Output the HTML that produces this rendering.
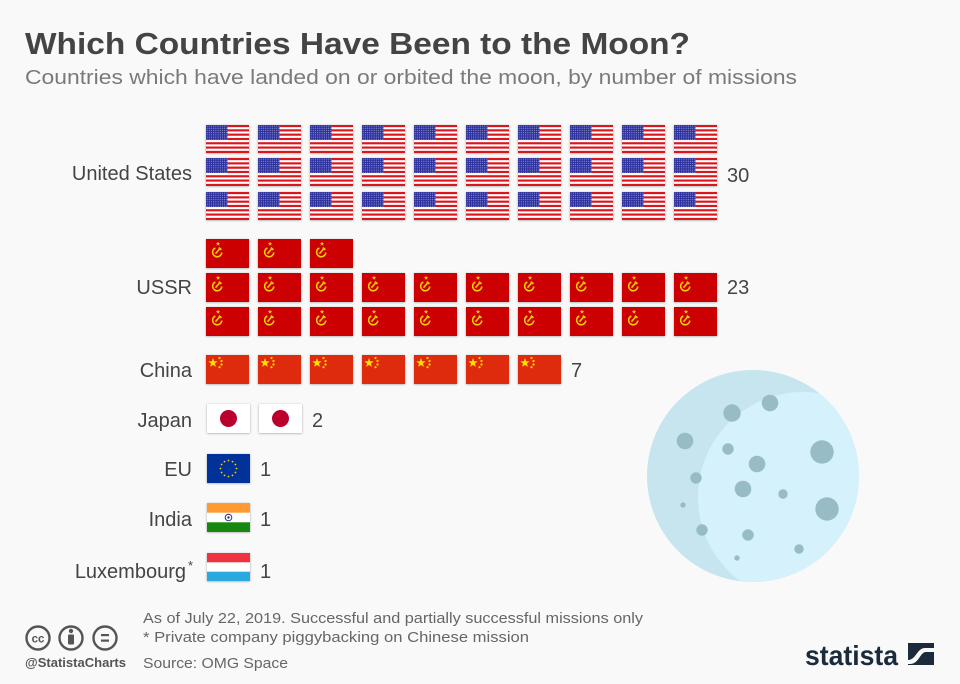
<!DOCTYPE html>
<html><head><meta charset="utf-8"><style>
html,body{margin:0;padding:0;background:#f9f9f9;}
svg{display:block;}
text{font-family:"Liberation Sans",sans-serif;}
</style></head><body>
<svg width="960" height="684" viewBox="0 0 960 684" xmlns="http://www.w3.org/2000/svg">
<defs>
<filter id="sh" x="-20%" y="-20%" width="140%" height="140%">
<feDropShadow dx="0" dy="0.5" stdDeviation="1" flood-color="#000" flood-opacity="0.35"/>
</filter>
<pattern id="stars" width="2.2" height="2.2" patternUnits="userSpaceOnUse">
<rect width="2.2" height="2.2" fill="#2a2e9c"/>
<circle cx="1.1" cy="1.1" r="0.5" fill="#b8bce8"/>
</pattern>
<symbol id="us" viewBox="0 0 43 28">
<rect width="43" height="28" fill="#fff"/>
<g fill="#d8141e">
<rect y="0" width="43" height="2.15"/><rect y="4.3" width="43" height="2.15"/><rect y="8.6" width="43" height="2.15"/><rect y="12.9" width="43" height="2.15"/><rect y="17.2" width="43" height="2.15"/><rect y="21.5" width="43" height="2.15"/><rect y="25.85" width="43" height="2.15"/>
</g>
<rect width="21.5" height="15" fill="url(#stars)"/>
</symbol>
<symbol id="su" viewBox="0 0 43 29">
<rect width="43" height="29" fill="#cc0000"/>
<g fill="#ffd200" stroke="#ffd200">
<polygon points="12,2.5 12.6,4.1 14.2,4.1 12.9,5.1 13.4,6.7 12,5.7 10.6,6.7 11.1,5.1 9.8,4.1 11.4,4.1" stroke="none"/>
<path d="M9.3,9 A4.6,4.6 0 1 0 15.8,13.6" fill="none" stroke-width="1.6"/>
<line x1="9.5" y1="14.6" x2="14.2" y2="9.2" stroke-width="1.5"/>
<line x1="12.8" y1="8.6" x2="15.4" y2="10.8" stroke-width="1.7"/>
</g>
</symbol>
<symbol id="cn" viewBox="0 0 43 29">
<rect width="43" height="29" fill="#de2910"/>
<g fill="#ffde00">
<polygon points="7,3 8.2,6.3 11.7,6.4 8.9,8.5 9.9,11.9 7,9.9 4.1,11.9 5.1,8.5 2.3,6.4 5.8,6.3"/>
<circle cx="13.5" cy="3" r="1.1"/><circle cx="15.5" cy="6" r="1.1"/><circle cx="15.5" cy="9.5" r="1.1"/><circle cx="13.5" cy="12.2" r="1.1"/>
</g>
</symbol>
<symbol id="jp" viewBox="0 0 43 29">
<rect width="43" height="29" fill="#fff"/>
<circle cx="21.5" cy="14.5" r="8.5" fill="#bc002d"/>
</symbol>
<symbol id="eu" viewBox="0 0 43 29">
<rect width="43" height="29" fill="#003399"/>
<g fill="#ffcc00">
<circle cx="21.5" cy="6.5" r="0.9"/><circle cx="25.5" cy="7.6" r="0.9"/><circle cx="28.4" cy="10.5" r="0.9"/><circle cx="29.5" cy="14.5" r="0.9"/><circle cx="28.4" cy="18.5" r="0.9"/><circle cx="25.5" cy="21.4" r="0.9"/><circle cx="21.5" cy="22.5" r="0.9"/><circle cx="17.5" cy="21.4" r="0.9"/><circle cx="14.6" cy="18.5" r="0.9"/><circle cx="13.5" cy="14.5" r="0.9"/><circle cx="14.6" cy="10.5" r="0.9"/><circle cx="17.5" cy="7.6" r="0.9"/>
</g>
</symbol>
<symbol id="in" viewBox="0 0 43 29">
<rect width="43" height="29" fill="#fff"/>
<rect width="43" height="9.7" fill="#ff9933"/>
<rect y="19.3" width="43" height="9.7" fill="#138808"/>
<circle cx="21.5" cy="14.5" r="3.3" fill="none" stroke="#2b2f8f" stroke-width="1"/>
<circle cx="21.5" cy="14.5" r="1.2" fill="#2b2f8f"/>
</symbol>
<symbol id="lu" viewBox="0 0 43 28">
<rect width="43" height="28" fill="#fff"/>
<rect width="43" height="9.3" fill="#ef3340"/>
<rect y="18.7" width="43" height="9.3" fill="#2aa9e0"/>
</symbol>
<g id="usrow">
<use href="#us" x="206" y="0" width="43" height="28"/>
<use href="#us" x="258" y="0" width="43" height="28"/>
<use href="#us" x="310" y="0" width="43" height="28"/>
<use href="#us" x="362" y="0" width="43" height="28"/>
<use href="#us" x="414" y="0" width="43" height="28"/>
<use href="#us" x="466" y="0" width="43" height="28"/>
<use href="#us" x="518" y="0" width="43" height="28"/>
<use href="#us" x="570" y="0" width="43" height="28"/>
<use href="#us" x="622" y="0" width="43" height="28"/>
<use href="#us" x="674" y="0" width="43" height="28"/>
</g>
<g id="surow">
<use href="#su" x="206" y="0" width="43" height="29"/>
<use href="#su" x="258" y="0" width="43" height="29"/>
<use href="#su" x="310" y="0" width="43" height="29"/>
<use href="#su" x="362" y="0" width="43" height="29"/>
<use href="#su" x="414" y="0" width="43" height="29"/>
<use href="#su" x="466" y="0" width="43" height="29"/>
<use href="#su" x="518" y="0" width="43" height="29"/>
<use href="#su" x="570" y="0" width="43" height="29"/>
<use href="#su" x="622" y="0" width="43" height="29"/>
<use href="#su" x="674" y="0" width="43" height="29"/>
</g>
<clipPath id="moonclip"><circle cx="753" cy="476" r="106"/></clipPath>
</defs>

<rect width="960" height="684" fill="#f9f9f9"/>

<!-- Title -->
<text x="25" y="54" font-size="31" font-weight="bold" fill="#444" textLength="665" lengthAdjust="spacingAndGlyphs">Which Countries Have Been to the Moon?</text>
<text x="25" y="84" font-size="20.5" fill="#7a7a7a" textLength="772" lengthAdjust="spacingAndGlyphs">Countries which have landed on or orbited the moon, by number of missions</text>

<!-- Labels -->
<g font-size="20" fill="#444" text-anchor="end">
<text x="192" y="180">United States</text>
<text x="192" y="294">USSR</text>
<text x="192" y="377">China</text>
<text x="192" y="427">Japan</text>
<text x="192" y="476">EU</text>
<text x="192" y="526">India</text>
<text x="186" y="578">Luxembourg</text>
<text x="193" y="570" font-size="13">*</text>
</g>
<!-- Numbers -->
<g font-size="20" fill="#444">
<text x="727" y="182">30</text>
<text x="727" y="294">23</text>
<text x="571" y="377">7</text>
<text x="312" y="427">2</text>
<text x="260" y="476">1</text>
<text x="260" y="526">1</text>
<text x="260" y="578">1</text>
</g>

<!-- Flags -->
<g filter="url(#sh)">
<use href="#usrow" x="0" y="125"/>
<use href="#usrow" x="0" y="158"/>
<use href="#usrow" x="0" y="192"/>
</g>
<g filter="url(#sh)">
<use href="#su" x="206" y="239" width="43" height="29"/>
<use href="#su" x="258" y="239" width="43" height="29"/>
<use href="#su" x="310" y="239" width="43" height="29"/>
<use href="#surow" x="0" y="273"/>
<use href="#surow" x="0" y="307"/>
</g>
<g filter="url(#sh)">
<use href="#cn" x="206" y="355" width="43" height="29"/>
<use href="#cn" x="258" y="355" width="43" height="29"/>
<use href="#cn" x="310" y="355" width="43" height="29"/>
<use href="#cn" x="362" y="355" width="43" height="29"/>
<use href="#cn" x="414" y="355" width="43" height="29"/>
<use href="#cn" x="466" y="355" width="43" height="29"/>
<use href="#cn" x="518" y="355" width="43" height="29"/>
<use href="#jp" x="207" y="404" width="43" height="29"/>
<use href="#jp" x="259" y="404" width="43" height="29"/>
<use href="#eu" x="207" y="454" width="43" height="29"/>
<use href="#in" x="207" y="503" width="43" height="29"/>
<use href="#lu" x="207" y="553" width="43" height="28"/>
</g>

<!-- Moon -->
<circle cx="753" cy="476" r="106" fill="#c6e5ef"/>
<g clip-path="url(#moonclip)">
<circle cx="803" cy="497" r="105" fill="#d4f1fc"/>
</g>
<g fill="#98bcc6">
<circle cx="732" cy="413" r="8.7"/>
<circle cx="770" cy="403" r="8.3"/>
<circle cx="685" cy="441" r="8.3"/>
<circle cx="728" cy="449" r="5.7"/>
<circle cx="822" cy="452" r="11.7"/>
<circle cx="757" cy="464" r="8.3"/>
<circle cx="696" cy="478" r="5.7"/>
<circle cx="743" cy="489" r="8.3"/>
<circle cx="783" cy="494" r="4.7"/>
<circle cx="683" cy="505" r="2.7"/>
<circle cx="827" cy="509" r="11.7"/>
<circle cx="702" cy="530" r="5.7"/>
<circle cx="748" cy="535" r="5.7"/>
<circle cx="799" cy="549" r="4.7"/>
<circle cx="737" cy="558" r="2.7"/>
</g>

<!-- Footer -->
<g font-size="15" fill="#666">
<text x="143" y="623" textLength="500" lengthAdjust="spacingAndGlyphs">As of July 22, 2019. Successful and partially successful missions only</text>
<text x="143" y="642" textLength="386" lengthAdjust="spacingAndGlyphs">* Private company piggybacking on Chinese mission</text>
<text x="143" y="668" textLength="145" lengthAdjust="spacingAndGlyphs">Source: OMG Space</text>
</g>
<!-- CC icons -->
<g fill="none" stroke="#555" stroke-width="2.4">
<circle cx="38" cy="638" r="11.5"/>
<circle cx="71" cy="638" r="11.5"/>
<circle cx="105" cy="638" r="11.5"/>
</g>
<text x="38" y="642.5" font-size="11.5" font-weight="bold" fill="#555" text-anchor="middle">cc</text>
<g fill="#555">
<circle cx="71" cy="631" r="2.2"/>
<rect x="68" y="634.5" width="6" height="10" rx="1"/>
<rect x="101" y="634" width="8" height="2.2"/>
<rect x="101" y="639.5" width="8" height="2.2"/>
</g>
<text x="25" y="667" font-size="12.5" font-weight="bold" fill="#555" textLength="101" lengthAdjust="spacingAndGlyphs">@StatistaCharts</text>

<!-- Statista logo -->
<text x="805" y="665" font-size="28" font-weight="bold" fill="#1b2b3c" textLength="93" lengthAdjust="spacingAndGlyphs">statista</text>
<rect x="908" y="643" width="26" height="22" fill="#1b2b3c"/>
<path d="M908,660 C916,660 917,648 925,648 L934,648 L934,652 L926,652 C920,652 919,664 910,664 L908,664 Z" fill="#f9f9f9"/>
</svg>
</body></html>
